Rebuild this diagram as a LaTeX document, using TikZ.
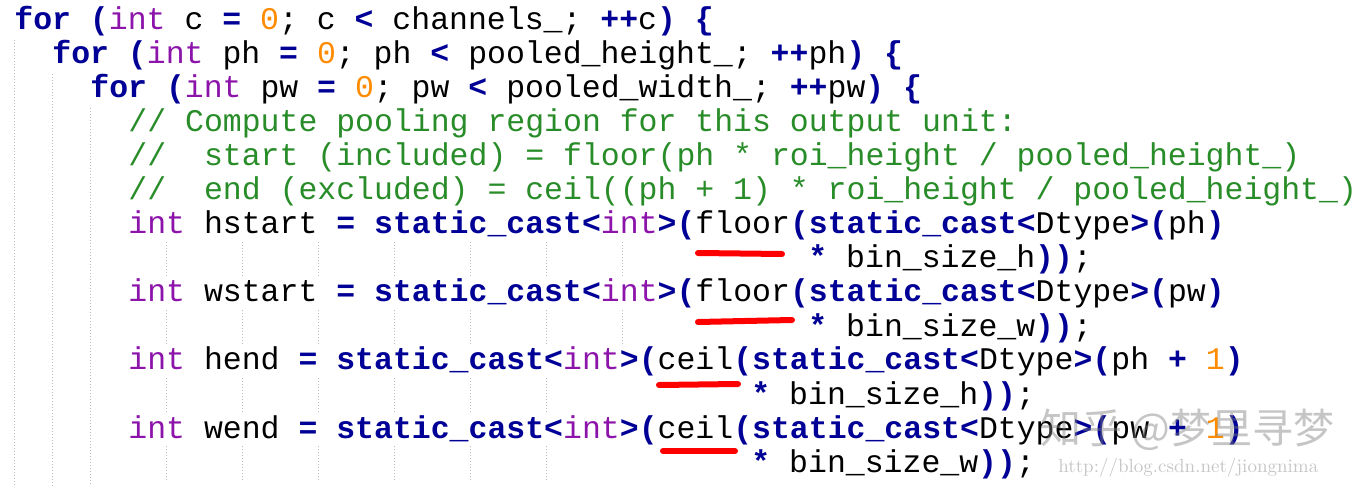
\documentclass[tikz,border=0pt]{standalone}
\usepackage{fontspec}
\setmonofont{Liberation Mono}
\newfontfamily\cjk{Noto Sans CJK SC}
\usetikzlibrary{positioning}

\definecolor{kwblue}{RGB}{0,0,150}
\definecolor{typurple}{RGB}{140,20,170}
\definecolor{numorange}{RGB}{255,140,0}
\definecolor{cmgreen}{RGB}{40,140,40}
\newcommand{\kw}[1]{\textcolor{kwblue}{\bfseries #1}}
\newcommand{\ty}[1]{\textcolor{typurple}{#1}}
\newcommand{\nm}[1]{\textcolor{numorange}{#1}}
\newcommand{\cm}[1]{\textcolor{cmgreen}{#1}}

\begin{document}
\begin{tikzpicture}[x=0.5pt, y=-0.5pt]

% Styles
\tikzset{
  code/.style={anchor=base west, inner sep=0pt, font=\ttfamily\fontsize{15.75}{17}\selectfont},
  guide/.style={gray!50, densely dotted, line width=0.5pt},
  redmark/.style={red, line width=3pt, line cap=round}
}
\useasboundingbox (0,0) rectangle (1366,486);
\fill[white] (0,0) rectangle (1366,486);

% --- Indent guides ---
\draw[guide] (14,40) -- (14,486);
\draw[guide] (52,74) -- (52,486);
\draw[guide] (90,108) -- (90,486);
\foreach \row/\ncols in {7/8, 9/8, 11/7, 13/7} {
  \foreach \k in {2,...,\ncols}
    \draw[guide] ({14+76*\k},{4+34*\row}) -- ({14+76*\k},{38+34*\row});
}

% --- Code lines ---
\node (l0) [code] at (14,30) {\kw{for (}\ty{int} c \kw{=} \nm{0}; c \kw{<} channels\_; \kw{++}c\kw{) \{}};
\node (l1) [code] at (52,64) {\kw{for (}\ty{int} ph \kw{=} \nm{0}; ph \kw{<} pooled\_height\_; \kw{++}ph\kw{) \{}};
\node (l2) [code] at (90,98) {\kw{for (}\ty{int} pw \kw{=} \nm{0}; pw \kw{<} pooled\_width\_; \kw{++}pw\kw{) \{}};
\node (l3) [code] at (128,132) {\cm{// Compute pooling region for this output unit:}};
\node (l4) [code] at (128,166) {\cm{//\ \ start (included) = floor(ph * roi\_height / pooled\_height\_)}};
\node (l5) [code] at (128,200) {\cm{//\ \ end (excluded) = ceil((ph + 1) * roi\_height / pooled\_height\_)}};
\node (l6) [code] at (128,234) {\ty{int} hstart \kw{= static\_cast<}\ty{int}\kw{>(}floor\kw{(static\_cast<}Dtype\kw{>(}ph\kw{)}};
\node (l7) [code] at (808,268) {\kw{*} bin\_size\_h\kw{))};};
\node (l8) [code] at (128,302) {\ty{int} wstart \kw{= static\_cast<}\ty{int}\kw{>(}floor\kw{(static\_cast<}Dtype\kw{>(}pw\kw{)}};
\node (l9) [code] at (808,336) {\kw{*} bin\_size\_w\kw{))};};
\node (l10) [code] at (128,370) {\ty{int} hend \kw{= static\_cast<}\ty{int}\kw{>(}ceil\kw{(static\_cast<}Dtype\kw{>(}ph \kw{+} \nm{1}\kw{)}};
\node (l11) [code] at (751,404) {\kw{*} bin\_size\_h\kw{))};};
\node (l12) [code] at (128,438) {\ty{int} wend \kw{= static\_cast<}\ty{int}\kw{>(}ceil\kw{(static\_cast<}Dtype\kw{>(}pw \kw{+} \nm{1}\kw{)}};
\node (l13) [code] at (751,472) {\kw{*} bin\_size\_w\kw{))};};

% --- Red marks ---
\draw[redmark] (698,253) -- (782,254);
\draw[redmark] (698,322) -- (792,320);
\draw[redmark] (659,385) -- (738,384);
\draw[redmark] (663,451) -- (735,451);

% --- Watermark ---
\node (wm) [anchor=base west, inner sep=0pt, text=gray, opacity=0.45, font=\cjk\fontsize{20.5}{20.5}\selectfont] at (1040,444) {知乎 @梦里寻梦};
\node (url) [anchor=base west, inner sep=0pt, text=gray!45, font=\rmfamily\fontsize{9.5}{9.5}\selectfont] at (1058,472) {http://blog.csdn.net/jiongnima};

\end{tikzpicture}
\end{document}
